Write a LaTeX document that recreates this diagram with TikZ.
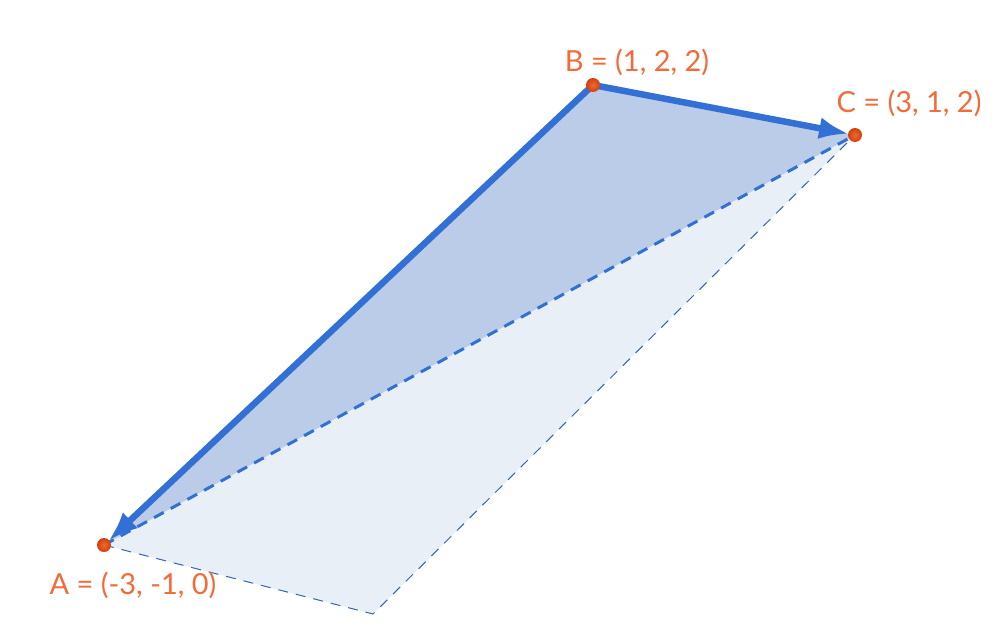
\documentclass[tikz,border=0pt]{standalone}
\usepackage{fontspec}
\setmainfont{Lato}
\usetikzlibrary{arrows.meta}
\definecolor{vecblue}{HTML}{3370D6}
\definecolor{thinblue}{HTML}{3366AA}
\definecolor{fillA}{HTML}{BBCCE8}
\definecolor{fillB}{HTML}{E9EFF7}
\definecolor{ptin}{HTML}{F06A2A}
\definecolor{ptout}{HTML}{D0400F}
\definecolor{labcol}{HTML}{F26B38}
\tikzset{
  pt/.style={circle, inner sep=0pt, minimum size=14pt, draw=none, inner color=ptin, outer color=ptout},
  lab/.style={text=labcol, font=\fontsize{29}{33}\selectfont, inner sep=0pt},
  vec/.style={draw=vecblue, line width=6.5pt, -{Latex[length=30pt,width=22pt]}, shorten >=6pt},
  dashmid/.style={draw=vecblue, line width=3pt, dash pattern=on 11pt off 8pt},
  dashthin/.style={draw=thinblue, line width=1pt, dash pattern=on 10pt off 8pt},
}
\begin{document}
\begin{tikzpicture}[x=1pt,y=-1pt]
\useasboundingbox (0,0) rectangle (1004,634);
\coordinate (A) at (104,545);
\coordinate (B) at (593,85);
\coordinate (C) at (855,135);
\coordinate (D) at (373,614);
\fill[fillB] (A) -- (D) -- (C) -- cycle;
\fill[fillA] (A) -- (B) -- (C) -- cycle;
\draw[dashthin] (A) -- (D) -- (C);
\draw[dashmid] (A) -- (C);
\draw[vec, line cap=round] (B) -- (A);
\draw[vec, line cap=round] (B) -- (C);
\node[pt] (pA) at (A) {};
\node[pt] (pB) at (B) {};
\node[pt] (pC) at (C) {};
\node[lab] (lB) at (637,62) {B = (1, 2, 2)};
\node[lab] (lC) at (909,103) {C = (3, 1, 2)};
\node[lab] (lA) at (133,585) {A = (-3, -1, 0)};
\end{tikzpicture}
\end{document}
